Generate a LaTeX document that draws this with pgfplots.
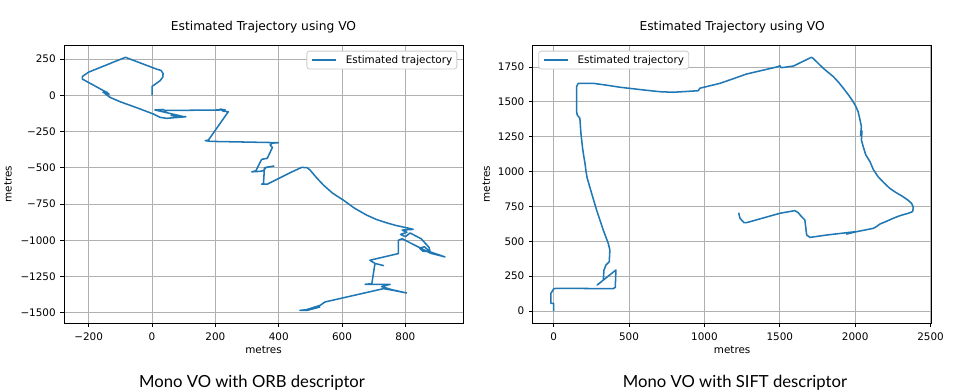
\documentclass[border=0pt]{standalone}
\usepackage{fontspec}
\setmainfont{DejaVu Sans}
\newfontfamily\capfont{Lato}
\usepackage{pgfplots}
\pgfplotsset{compat=1.18}
\definecolor{mplblue}{HTML}{1F77B4}
\definecolor{mplgrid}{HTML}{B0B0B0}
\definecolor{mpllegend}{HTML}{CCCCCC}

\pgfplotsset{
 vo/.style={
  scale only axis, width=299.25pt, height=208.5pt, anchor=south west,
  axis line style={black, line width=0.6pt},
  grid=major, major grid style={mplgrid, line width=0.6pt},
  tick align=outside, tick pos=left, major tick length=2.7pt,
  every tick/.style={black, line width=0.6pt},
  tick label style={font=\fontsize{7.8}{9}\selectfont},
  xticklabel style={yshift=-0.8pt},
  label style={font=\fontsize{7.8}{9}\selectfont},
  title style={font=\fontsize{9.2}{11}\selectfont, at={(axis description cs:0.5,1)}, anchor=base, inner sep=0pt, yshift=4.5pt},
  xlabel style={at={(axis description cs:0.5,-0.1115)}, anchor=base, inner sep=0pt},
  title={Estimated Trajectory using VO},
  xlabel={metres}, ylabel={metres},
  legend style={draw=mpllegend, rounded corners=2pt, fill=white, line width=0.6pt,
    inner xsep=3.5pt, inner ysep=3pt, font=\fontsize{7.8}{9}\selectfont,
    nodes={inner sep=0pt}, /tikz/column 1/.style={column sep=6.5pt}},
  legend image code/.code={\draw[#1] (0pt,0pt) -- (18pt,0pt);},
  legend cell align=left,
 },
 traj/.style={mplblue, line width=1.15pt, line join=round, no marks},
}

\begin{document}
\begin{tikzpicture}
\useasboundingbox (0,0) rectangle (720.75pt,294pt);

% ---------- ORB ----------
\begin{axis}[vo, at={(48pt,51.75pt)},
  xmin=-278, xmax=982, ymin=-1571, ymax=347,
  xtick={-200,0,200,400,600,800},
  xticklabels={−200,0,200,400,600,800},
  ytick={-1500,-1250,-1000,-750,-500,-250,0,250},
  yticklabels={−1500,−1250,−1000,−750,−500,−250,0,250},
  ylabel style={at={(axis description cs:-0.131,0.5)}, anchor=base, inner sep=0pt},
  legend style={at={(axis description cs:1,1)}, anchor=north east, xshift=-4.3pt, yshift=-4.3pt},
]
\addplot[traj] coordinates {
(0,0) (0,62) (6,70) (25,100) (34,125) (35,150) (28,172) (15,180) (-84,262)
(-200,160) (-220,130) (-220,112) (-200,88) (-150,28) (-140,18) (-155,20) (-135,8) (-150,15)
(-133,-14) (-100,-45) (-43,-90) (4,-129) (25,-152) (46,-159) (107,-148) (60,-140) (95,-145)
(9,-101) (35,-98) (40,-105) (231,-101) (215,-95) (225,-110) (241,-113) (178,-309) (168,-313)
(185,-318) (399,-327) (380,-330) (373,-343) (380,-360) (364,-435) (346,-442) (328,-521)
(315,-528) (340,-525) (352,-520) (360,-497) (385,-488) (355,-500) (352,-608) (346,-613)
(364,-613) (440,-530) (473,-497) (490,-500) (499,-516) (520,-570) (541,-619) (570,-675)
(604,-723) (640,-780) (678,-827) (710,-858) (741,-880) (770,-898) (804,-914) (825,-925)
(790,-930) (805,-945) (785,-960) (800,-975) (815,-950) (850,-990)
(875,-1050) (878,-1080) (855,-1075) (845,-1055) (860,-1045) (878,-1080) (925,-1115)
(880,-1090) (790,-990) (778,-1000) (778,-1092) (688,-1138) (704,-1160) (731,-1175)
(704,-1160) (694,-1300) (673,-1304) (752,-1304) (725,-1320) (757,-1341) (804,-1364)
(760,-1345) (731,-1334) (546,-1426) (531,-1449) (488,-1479) (467,-1484) (490,-1484) (531,-1460)
};
\addlegendentry{Estimated trajectory}
\end{axis}

% ---------- SIFT ----------
\begin{axis}[vo, at={(399.5pt,51.75pt)},
  xmin=-139, xmax=2507, ymin=-86, ymax=1908,
  xtick={0,500,1000,1500,2000,2500},
  xticklabels={0,500,1000,1500,2000,2500},
  ytick={0,250,500,750,1000,1250,1500,1750},
  yticklabels={0,250,500,750,1000,1250,1500,1750},
  ylabel style={at={(axis description cs:-0.107,0.5)}, anchor=base, inner sep=0pt},
  legend style={at={(axis description cs:0,1)}, anchor=north west, xshift=4.2pt, yshift=-4.3pt},
]
\addplot[traj] coordinates {
(0,0) (0,55) (-18,55) (-18,127) (2,160) (20,163) (395,160) (409,170) (413,294) (289,187)
(300,195) (329,222) (334,294) (347,330) (369,354) (373,438) (362,486) (329,581) (285,724)
(252,844) (223,952) (215,1000) (208,1059) (200,1110) (192,1167) (181,1275) (174,1382)
(157,1406) (152,1430) (152,1609) (163,1633) (263,1633) (350,1620) (440,1605) (600,1585)
(705,1573) (793,1569) (959,1580) (970,1598) (1103,1633) (1191,1666) (1280,1700) (1490,1753)
(1500,1760) (1510,1745) (1590,1757) (1710,1820) (1721,1812) (1788,1741) (1820,1712)
(1855,1681) (1890,1640) (1922,1597) (1955,1550) (1986,1502) (2005,1465) (2019,1430)
(2030,1380) (2041,1322) (2035,1260) (2045,1290) (2041,1227)
(2053,1179) (2070,1120) (2098,1071) (2120,1015) (2151,964) (2190,920) (2229,880)
(2270,850) (2317,820) (2350,795) (2374,772) (2385,745) (2381,713) (2352,701)
(2300,685) (2252,665) (2200,640) (2164,624) (2140,605) (2120,593) (2009,569) (1943,552)
(2010,570) (1810,545) (1700,528)
(1678,545) (1666,653) (1644,677) (1622,705) (1600,720) (1501,701) (1280,634) (1262,634)
(1236,665) (1227,705)
};
\addlegendentry{Estimated trajectory}
\end{axis}

\node[anchor=base, inner sep=0pt, font=\capfont\fontsize{12.5}{15}\selectfont] at (189pt,3.2pt) {Mono VO with ORB descriptor};
\node[anchor=base, inner sep=0pt, font=\capfont\fontsize{12.5}{15}\selectfont] at (551.25pt,3.2pt) {Mono VO with SIFT descriptor};
\end{tikzpicture}
\end{document}
